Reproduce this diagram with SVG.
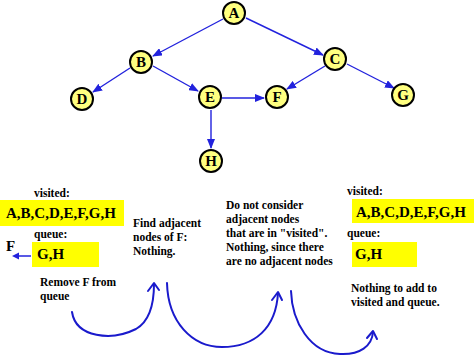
<svg xmlns="http://www.w3.org/2000/svg" width="474" height="356" viewBox="0 0 474 356">
<style>
.n circle{fill:#ffff80;stroke:#000;stroke-width:2}
.n text{font-family:"Liberation Serif",serif;font-weight:bold;font-size:15px;text-anchor:middle}
.e{stroke:#2222dd;stroke-width:1.4;fill:none;marker-end:url(#ah)}
.t{font-family:"Liberation Serif",serif;font-weight:bold;font-size:11.5px;fill:#000}
.big{font-family:"Liberation Serif",serif;font-weight:bold;font-size:15px;fill:#000}
.box{fill:#ffff00}
.c{stroke:#1a1acc;stroke-width:2;fill:none;stroke-linecap:round;stroke-linejoin:round}
</style>
<defs>
<marker id="ah" markerWidth="10" markerHeight="8" refX="9" refY="4" orient="auto" markerUnits="userSpaceOnUse">
<path d="M0,0 L10,4 L0,8 Z" fill="#2222dd"/>
</marker>
</defs>
<rect width="474" height="356" fill="#fff"/>
<g id="edges">
<line class="e" x1="223" y1="19" x2="153" y2="56"/>
<line class="e" x1="246" y1="18" x2="323" y2="55"/>
<line class="e" x1="130" y1="68" x2="93" y2="92"/>
<line class="e" x1="153" y1="66" x2="198" y2="91"/>
<line class="e" x1="325" y1="66" x2="287" y2="89"/>
<line class="e" x1="347" y1="64" x2="394" y2="88"/>
<line class="e" x1="222" y1="98" x2="264" y2="98"/>
<line class="e" x1="211" y1="110" x2="211" y2="148"/>
</g>
<g id="A" class="n"><circle cx="234" cy="13" r="11"/><text x="234" y="18">A</text></g>
<g id="B" class="n"><circle cx="141" cy="62" r="11"/><text x="141" y="67">B</text></g>
<g id="C" class="n"><circle cx="335" cy="59" r="11"/><text x="335" y="64">C</text></g>
<g id="D" class="n"><circle cx="82" cy="99" r="11"/><text x="82" y="104">D</text></g>
<g id="E" class="n"><circle cx="210" cy="97" r="11"/><text x="210" y="102">E</text></g>
<g id="F" class="n"><circle cx="277" cy="97" r="11"/><text x="277" y="102">F</text></g>
<g id="G" class="n"><circle cx="403" cy="95" r="11"/><text x="403" y="100">G</text></g>
<g id="H" class="n"><circle cx="211" cy="161" r="11"/><text x="211" y="166">H</text></g>

<g id="left-state">
<text class="t" x="34" y="197">visited:</text>
<rect class="box" x="0" y="200" width="124" height="26"/>
<text class="big" x="6" y="218">A,B,C,D,E,F,G,H</text>
<text class="t" x="34" y="238">queue:</text>
<rect class="box" x="32" y="242" width="67" height="25"/>
<text class="big" x="37" y="259">G,H</text>
<text class="big" x="6" y="251" style="font-size:15px">F</text>
<line x1="31" y1="256" x2="18" y2="256" stroke="#2222dd" stroke-width="1.5"/>
<path d="M12,256 L19,252.5 L19,259.5 Z" fill="#2222dd"/>
<text class="t" x="40" y="286">Remove F from</text>
<text class="t" x="40" y="300">queue</text>
</g>

<g id="mid-text">
<text class="t" x="133" y="227">Find adjacent</text>
<text class="t" x="133" y="241">nodes of F:</text>
<text class="t" x="133" y="255">Nothing.</text>
<text class="t" x="226" y="209">Do not consider</text>
<text class="t" x="226" y="223">adjacent nodes</text>
<text class="t" x="226" y="237">that are in "visited".</text>
<text class="t" x="226" y="251">Nothing, since there</text>
<text class="t" x="226" y="265">are no adjacent nodes</text>
</g>

<g id="right-state">
<text class="t" x="347" y="195">visited:</text>
<rect class="box" x="352" y="199" width="122" height="24"/>
<text class="big" x="356" y="217">A,B,C,D,E,F,G,H</text>
<text class="t" x="347" y="237">queue:</text>
<rect class="box" x="352" y="242" width="65" height="25"/>
<text class="big" x="355" y="259">G,H</text>
<text class="t" x="351" y="292">Nothing to add to</text>
<text class="t" x="351" y="306">visited and queue.</text>
</g>

<g id="curves">
<path class="c" d="M72,312 C76,338 112,341 136,329 C150,321 154,302 154,284"/>
<path class="c" d="M148,291 L154,283 L159,290"/>
<path class="c" d="M167,283 C168,322 192,347 222,347 C255,347 276,328 278,293"/>
<path class="c" d="M272,300 L278,292 L282,300"/>
<path class="c" d="M291,291 C292,322 310,353 340,354 C360,355 372,346 373,332"/>
<path class="c" d="M367,338 L373,331 L377,339"/>
</g>
</svg>
